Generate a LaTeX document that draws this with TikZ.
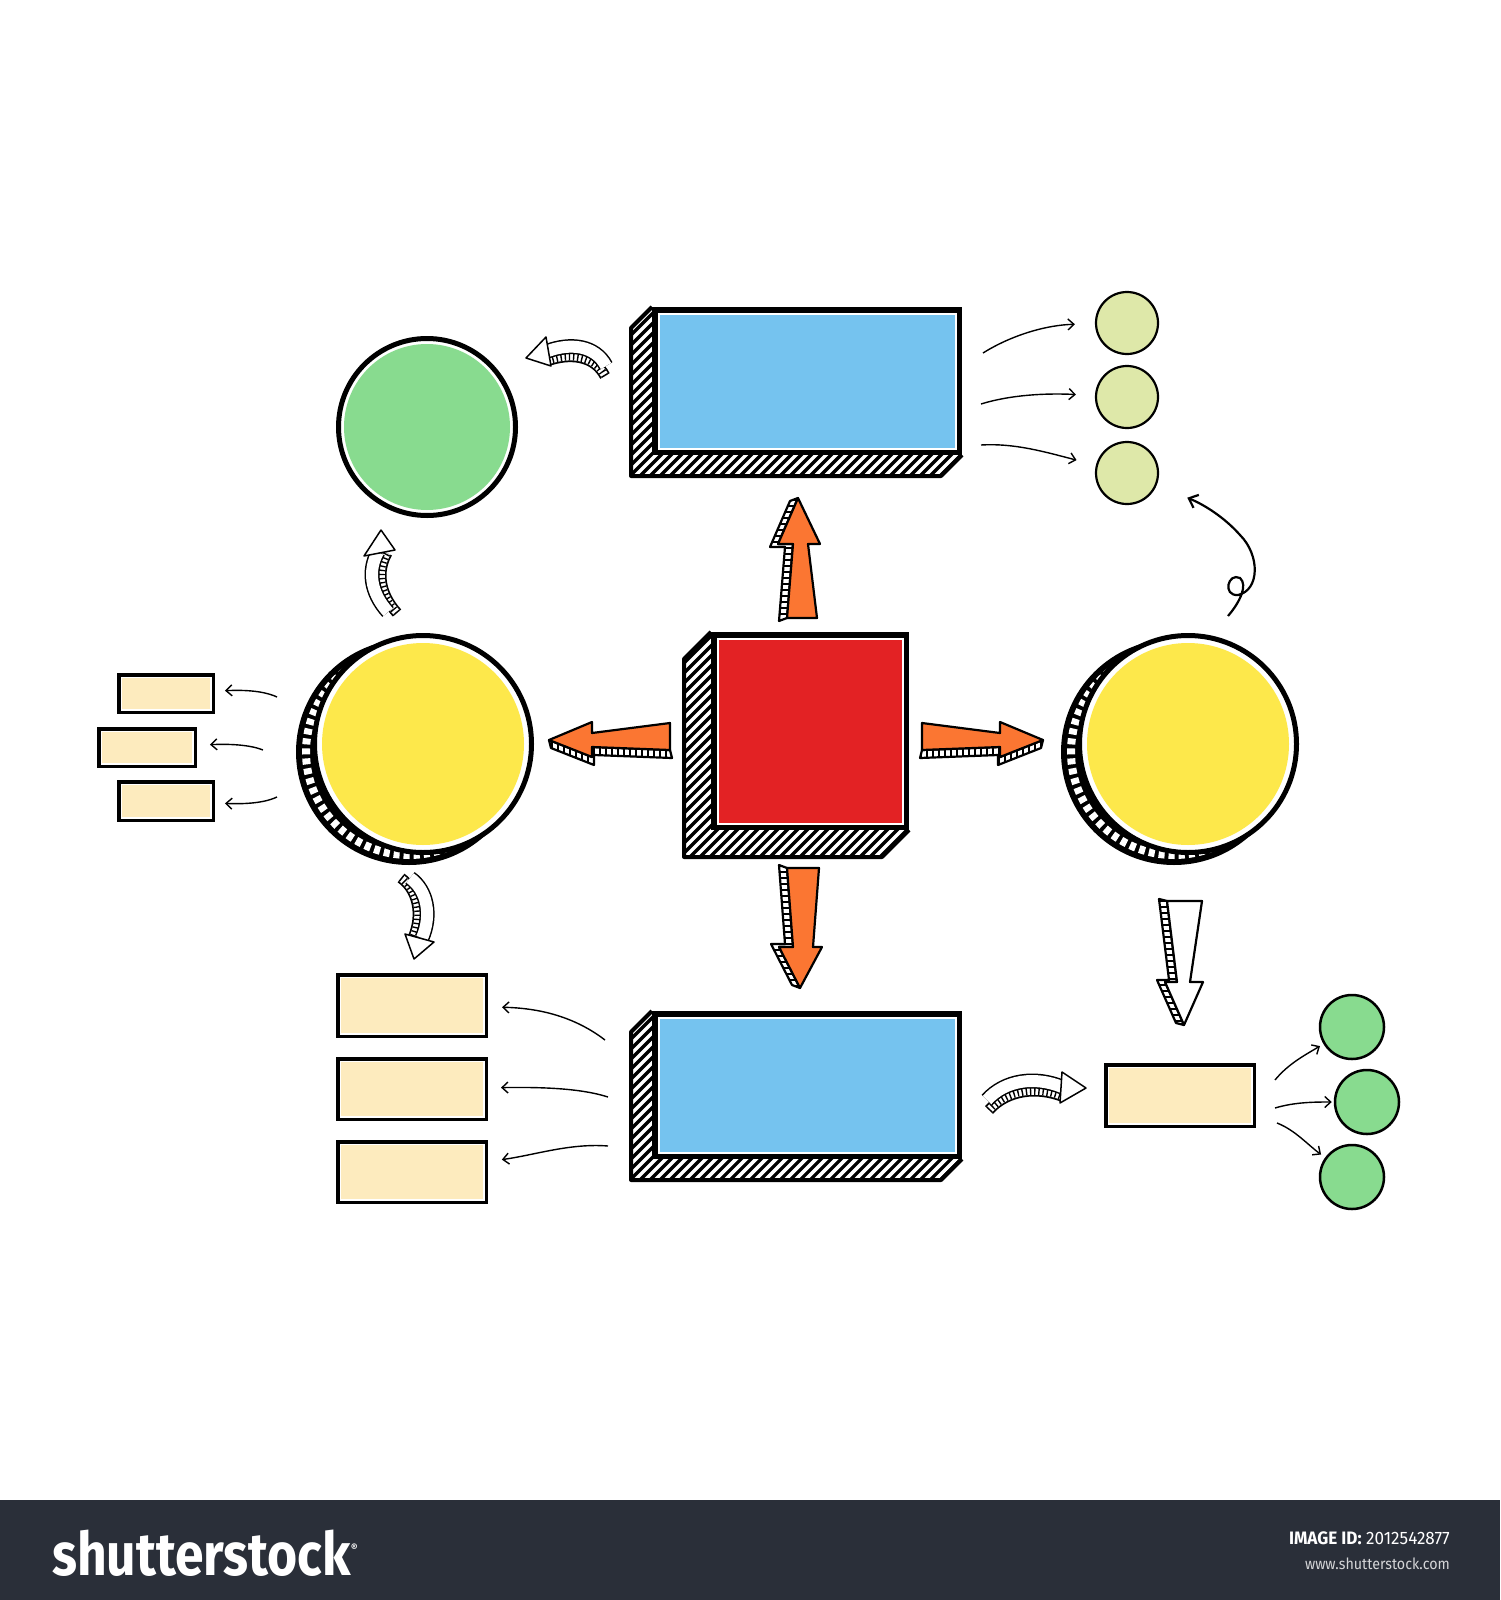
\documentclass[tikz,border=0pt]{standalone}
\usepackage{fontspec}
\newfontfamily\footfont{Fira Sans}
\usetikzlibrary{arrows.meta,fit}

\definecolor{cblue}{HTML}{75C3EF}
\definecolor{cred}{HTML}{E32224}
\definecolor{corange}{HTML}{FB7632}
\definecolor{cyellow}{HTML}{FDE84B}
\definecolor{cgreen}{HTML}{88DB8F}
\definecolor{clime}{HTML}{DEE8A9}
\definecolor{cbeige}{HTML}{FDEBBE}
\definecolor{cfoot}{HTML}{2A2F39}

\tikzset{
  hatchline/.style={white, line width=3.5pt},
  boxframe/.style={draw=black, fill=white, line width=5.5pt, inner sep=0pt},
  sideout/.style={draw=black, line width=4pt, line join=round},
  coinframe/.style={circle, draw=black, fill=white, line width=5pt, inner sep=0pt},
  smallcirc/.style={circle, draw=black, line width=2.2pt, inner sep=0pt, minimum size=62pt},
  beigeframe/.style={draw=black, fill=white, line width=3.5pt, inner sep=0pt},
  thinarrow/.style={line width=1.4pt, -{Straight Barb[length=6pt,width=11pt]}},
  blockfront/.style={draw=black, line width=2.2pt, line join=round},
  ladderbar/.style={black, line width=1.6pt},
}

% 3D box: name, x1, y1, x2, y2, depth, colour, hatch list
\newcommand{\threedbox}[8]{%
  \begin{scope}
    \clip (#2,#3) -- (#2-#6,#3+#6) -- (#2-#6,#5+#6) -- (#4-#6,#5+#6) -- (#4,#5) -- (#2,#5) -- cycle;
    \fill[black] (#2-#6-2,#3-2) rectangle (#4+2,#5+#6+2);
    \foreach \hx in {#8} \draw[hatchline] (\hx,#5+#6+5) -- ++(#5-#3+40,-#5+#3-40);
  \end{scope}
  \draw[sideout] (#2,#3) -- (#2-#6,#3+#6) -- (#2-#6,#5+#6) -- (#4-#6,#5+#6) -- (#4,#5);
  \node[boxframe, fit={(#2+2.75,#3+2.75) (#4-2.75,#5-2.75)}] (#1) {};
  \fill[#7] (#2+7.5,#3+7.5) rectangle (#4-7.5,#5-7.5);
}

% coin: name, cx, cy
\newcommand{\coin}[3]{%
  \fill[black] (#2-14,#3+8) circle[radius=113pt];
  \draw[white, line width=8pt, dash pattern=on 6pt off 4pt] (#2-14,#3+8) circle[radius=103pt];
  \node[coinframe, minimum size=217pt] (#1) at (#2,#3) {};
  \fill[cyellow] (#1.center) circle[radius=101pt];
}

% beige box: name, x1, y1, x2, y2
\newcommand{\beigebox}[5]{%
  \node[beigeframe, fit={(#2+1.75,#3+1.75) (#4-1.75,#5-1.75)}] (#1) {};
  \fill[cbeige] (#2+5,#3+5) rectangle (#4-5,#5-5);
}

% block arrow: strip polygon, front polygon, bar list, v/h, fill
\newcommand{\blockarrow}[5]{%
  \begin{scope}
    \clip #1;
    \fill[white] #1;
    \ifx v#4
      \foreach \bb in {#3} \draw[ladderbar] (\bb,0) -- (\bb,1600);
    \else
      \foreach \bb in {#3} \draw[ladderbar] (0,\bb) -- (1500,\bb);
    \fi
  \end{scope}
  \draw[blockfront] #1;
  \filldraw[blockfront, fill=#5] #2;
}

% curved hollow arrow: strip shift, curve, head
\newcommand{\curvedarrow}[3]{%
  \begin{scope}[shift={#1}]
    \draw[black, line width=11pt] #2;
    \draw[white, line width=7.5pt] #2;
    \draw[black, line width=7.5pt, dash pattern=on 1.4pt off 2.8pt] #2;
  \end{scope}
  \draw[black, line width=15pt] #2;
  \draw[white, line width=12pt] #2;
  \filldraw[fill=white, draw=black, line width=1.5pt, line join=round] #3;
}

\begin{document}
\begin{tikzpicture}[x=1pt, y=-1pt]
\useasboundingbox (0,0) rectangle (1500,1600);
\fill[white] (0,0) rectangle (1500,1600);

% main boxes
\threedbox{topbox}{652}{307}{962}{455}{21}{cblue}{440,450,...,970}
\threedbox{botbox}{652}{1011}{962}{1159}{21}{cblue}{440,450,...,970}
\threedbox{redbox}{711}{632}{909}{830}{27}{cred}{440,450,...,920}

% coins
\coin{lcoin}{423}{744}
\coin{rcoin}{1188}{744}

% green circle top left
\node[coinframe, minimum size=177pt] (gcirc) at (427,427) {};
\fill[cgreen] (gcirc.center) circle[radius=83pt];

% small lime circles
\node[smallcirc, fill=clime] (lc1) at (1127,323) {};
\node[smallcirc, fill=clime] (lc2) at (1127,397) {};
\node[smallcirc, fill=clime] (lc3) at (1127,473) {};

% green circles right
\node[smallcirc, fill=cgreen, minimum size=64pt, line width=2.5pt] (gc1) at (1352,1027) {};
\node[smallcirc, fill=cgreen, minimum size=64pt, line width=2.5pt] (gc2) at (1367,1102) {};
\node[smallcirc, fill=cgreen, minimum size=64pt, line width=2.5pt] (gc3) at (1352,1177) {};

% beige boxes
\beigebox{s1}{117}{673}{215}{714}
\beigebox{s2}{97}{727}{197}{768}
\beigebox{s3}{117}{780}{215}{822}
\beigebox{b1}{336}{973}{488}{1038}
\beigebox{b2}{336}{1057}{488}{1121}
\beigebox{b3}{336}{1140}{488}{1204}
\beigebox{rb}{1104}{1063}{1256}{1128}

% orange block arrows (strip, front)
\blockarrow{(787,618) -- (793,544) -- (778,544) -- (798,498) -- (790,501) -- (770,547) -- (785,547) -- (779,621) -- cycle}
  {(798,498) -- (820,544) -- (808,544) -- (817,618) -- (787,618) -- (793,544) -- (778,544) -- cycle}{500,506,...,625}{h}{corange}
\blockarrow{(787,868) -- (793,947) -- (779,947) -- (800,988) -- (792,985) -- (771,944) -- (785,944) -- (779,865) -- cycle}
  {(787,868) -- (819,868) -- (813,947) -- (822,947) -- (800,988) -- (779,947) -- (793,947) -- cycle}{860,866,...,995}{h}{corange}
\blockarrow{(549,740) -- (592,757) -- (592,747) -- (670,750) -- (672,758) -- (594,755) -- (594,765) -- (551,748) -- cycle}
  {(549,740) -- (592,722) -- (592,733) -- (670,723) -- (670,750) -- (592,747) -- (592,757) -- cycle}{540,546,...,680}{v}{corange}
\blockarrow{(1043,740) -- (1000,757) -- (1000,747) -- (922,750) -- (920,758) -- (998,755) -- (998,765) -- (1041,748) -- cycle}
  {(1043,740) -- (1000,722) -- (1000,733) -- (922,723) -- (922,750) -- (1000,747) -- (1000,757) -- cycle}{915,921,...,1050}{v}{corange}
% white block arrow
\blockarrow{(1167,901) -- (1177,982) -- (1165,982) -- (1184,1025) -- (1176,1023) -- (1157,980) -- (1169,980) -- (1159,899) -- cycle}
  {(1167,901) -- (1202,901) -- (1190,982) -- (1203,982) -- (1184,1025) -- (1165,982) -- (1177,982) -- cycle}{895,901,...,1030}{h}{white}

% curved hollow arrows
\curvedarrow{(-1,10)}{(606,366) .. controls (595,345) and (570,343) .. (548,351)}{(546,337) -- (526,358) -- (551,366) -- cycle}
\curvedarrow{(9,1)}{(388,612) .. controls (370,592) and (368,570) .. (378,552)}{(364,556) -- (381,530) -- (395,550) -- cycle}
\curvedarrow{(-9,0)}{(410,878) .. controls (427,890) and (432,915) .. (422,938)}{(405,934) -- (414,959) -- (434,942) -- cycle}
\curvedarrow{(2,10)}{(987,1100) .. controls (1005,1080) and (1035,1076) .. (1062,1087)}{(1062,1072) -- (1086,1088) -- (1060,1103) -- cycle}

% thin connectors: top box -> lime circles
\coordinate (ta1) at (983,353);
\coordinate (ta2) at (981,404);
\coordinate (ta3) at (981,445);
\draw[thinarrow, shorten >=20pt] (ta1) .. controls (1010,336) and (1045,325) .. (lc1);
\draw[thinarrow, shorten >=19pt] (ta2) .. controls (1010,395) and (1045,393) .. (lc2);
\draw[thinarrow, shorten >=20pt] (ta3) .. controls (1015,443) and (1045,452) .. (lc3);

% squiggle from right coin to lime circles
\coordinate (sq) at (1228,616);
\draw[line width=2.2pt, -{Straight Barb[length=8pt,width=14pt]}, shorten >=33pt]
  (sq) .. controls (1240,602) and (1248,585) .. (1240,578)
       .. controls (1228,572) and (1222,596) .. (1238,595)
       .. controls (1260,590) and (1260,555) .. (1240,535)
       .. controls (1225,518) and (1205,505) .. (lc3);

% right beige -> green circles
\coordinate (rr1) at (1275,1080);
\coordinate (rr2) at (1275,1108);
\coordinate (rr3) at (1277,1123);
\draw[thinarrow, shorten >=4pt] (rr1) .. controls (1288,1064) and (1305,1055) .. (gc1);
\draw[thinarrow, shorten >=2pt] (rr2) .. controls (1295,1102) and (1315,1102) .. (gc2);
\draw[thinarrow, shorten >=5pt] (rr3) .. controls (1295,1130) and (1308,1145) .. (gc3);

% left coin -> small beige boxes
\coordinate (la1) at (277,697);
\coordinate (la2) at (263,750);
\coordinate (la3) at (277,797);
\draw[thinarrow, shorten >=10pt] (la1) .. controls (262,690) and (240,690) .. (s1);
\draw[thinarrow, shorten >=13pt] (la2) .. controls (248,744) and (225,744) .. (s2);
\draw[thinarrow, shorten >=10pt] (la3) .. controls (262,804) and (240,804) .. (s3);

% bottom box -> beige boxes
\coordinate (ba1) at (605,1040);
\coordinate (ba2) at (608,1097);
\coordinate (ba3) at (608,1146);
\draw[thinarrow, shorten >=14pt] (ba1) .. controls (575,1017) and (540,1008) .. (b1);
\draw[thinarrow, shorten >=13pt] (ba2) .. controls (580,1088) and (540,1087) .. (b2);
\draw[thinarrow, shorten >=14pt] (ba3) .. controls (570,1143) and (535,1155) .. (b3);

% footer
\fill[cfoot] (0,1500) rectangle (1500,1600);
\node[anchor=west, text=white, inner sep=0pt, font=\footfont\bfseries\fontsize{60}{60}\selectfont] (logo) at (52,1553)
  {\scalebox{0.86}[1]{shutterstock}\raisebox{24pt}{\fontsize{10}{10}\selectfont ®}};
\node[anchor=east, text=white, inner sep=0pt, font=\footfont\fontsize{18}{18}\selectfont] (imgid) at (1450,1538)
  {\scalebox{0.95}[1]{\textbf{IMAGE ID:} 2012542877}};
\node[anchor=east, text=white!80!cfoot, inner sep=0pt, font=\footfont\fontsize{15.5}{15.5}\selectfont] (www) at (1450,1564)
  {\scalebox{0.92}[1]{www.shutterstock.com}};
\end{tikzpicture}
\end{document}
